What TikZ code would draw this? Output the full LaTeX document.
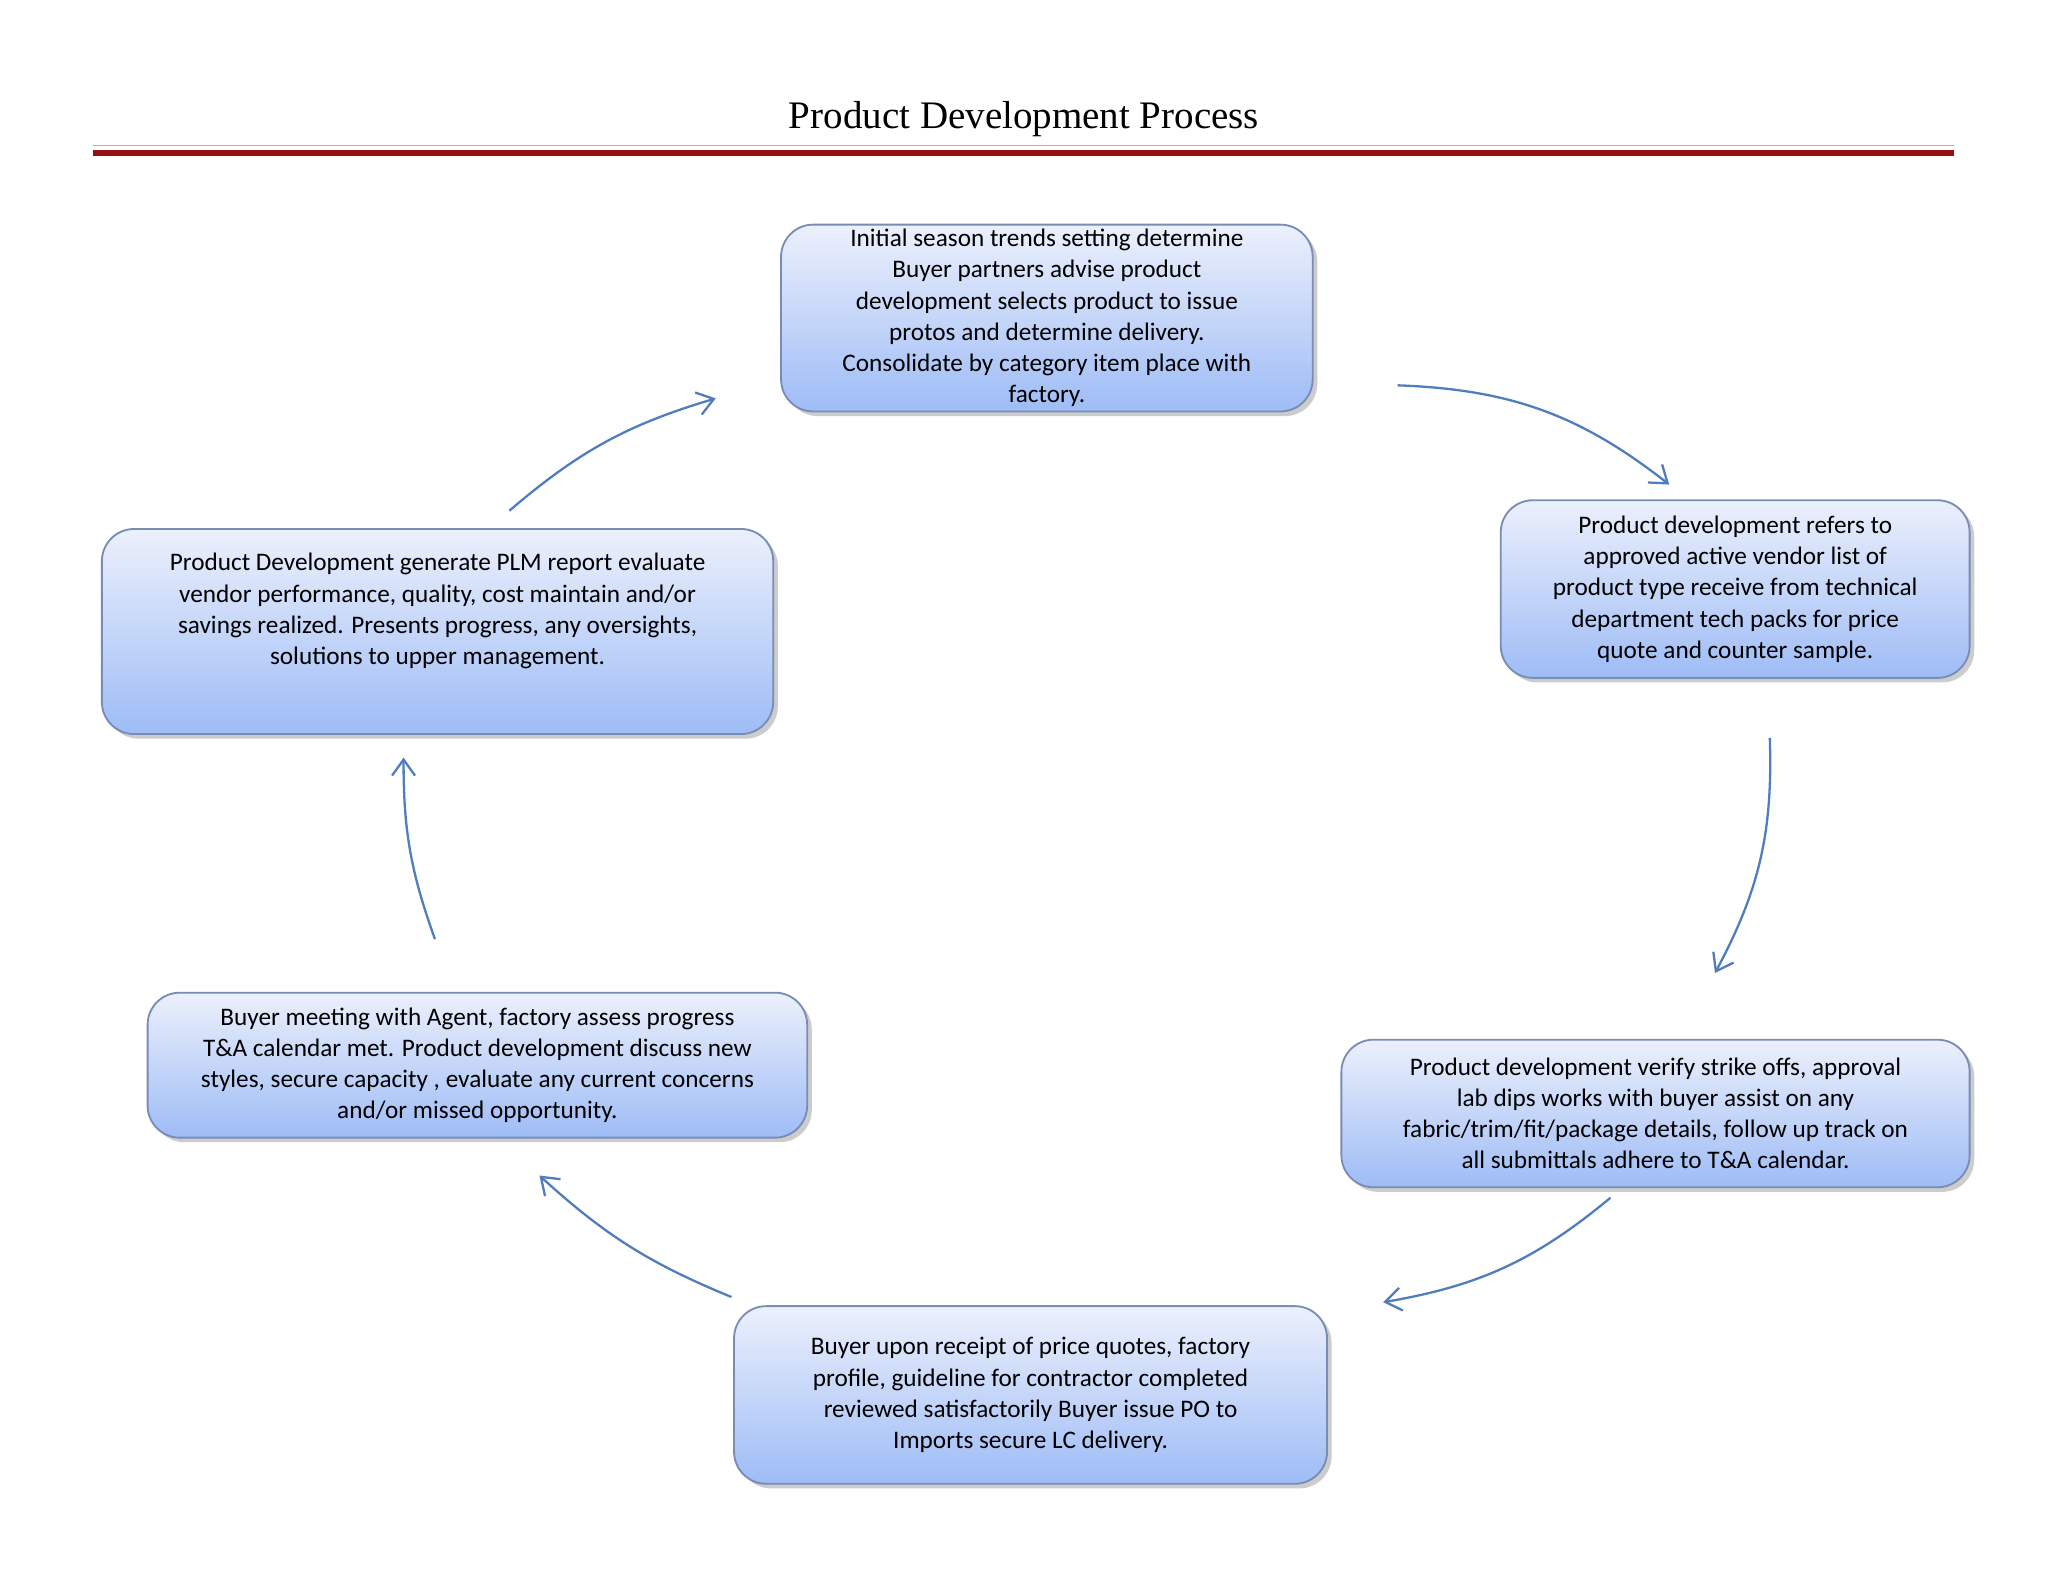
\documentclass[tikz,border=0pt]{standalone}
\usepackage{fontspec}
\setmainfont{Carlito}
\newfontfamily\titlefont{Liberation Serif}
\usetikzlibrary{arrows.meta,shadows}
\definecolor{boxtop}{RGB}{236,240,252}
\definecolor{boxbot}{RGB}{158,188,246}
\definecolor{boxedge}{RGB}{120,140,180}
\definecolor{arr}{RGB}{80,125,190}
\definecolor{rule}{RGB}{150,15,20}
\begin{document}
\begin{tikzpicture}[x=0.02cm,y=-0.02cm,
 box/.style={draw=boxedge,line width=0.8pt,rounded corners=14pt,top color=boxtop,bottom color=boxbot,
   drop shadow={shadow xshift=2pt,shadow yshift=-2pt,fill=black!40,opacity=0.5},
   align=center,font=\fontsize{11}{13.6}\selectfont,inner sep=2pt},
 arrow/.style={draw=arr,line width=1pt,-{Straight Barb[length=7pt,width=10pt]}}]
\useasboundingbox (0,0) rectangle (1568,1211);
\node[font=\titlefont\fontsize{17}{20}\selectfont] (title) at (784,91) {Product Development Process};
\draw[rule!40,line width=0.4pt] (71,111) -- (1496,111);
\draw[rule,line width=2.6pt] (71,117) -- (1496,117);
\node[box,minimum width=407*0.02cm,minimum height=139*0.02cm] (b1) at (801.5,243.5) {Initial season trends setting determine\\Buyer partners advise product\\development selects product to issue\\protos and determine delivery.\\Consolidate by category item place with\\factory.};
\node[box,minimum width=359*0.02cm,minimum height=136*0.02cm] (b2) at (1328.5,451) {Product development refers to\\approved active vendor list of\\product type receive from technical\\department tech packs for price\\quote and counter sample.};
\node[box,minimum width=481*0.02cm,minimum height=113*0.02cm] (b3) at (1267.5,852.5) {Product development verify strike offs, approval\\lab dips works with buyer assist on any\\fabric/trim/fit/package details, follow up track on\\all submittals adhere to T\&A calendar.};
\node[box,minimum width=454*0.02cm,minimum height=136*0.02cm] (b4) at (789,1068) {Buyer upon receipt of price quotes, factory\\profile, guideline for contractor completed\\reviewed satisfactorily Buyer issue PO to\\Imports secure LC delivery.};
\node[box,minimum width=505*0.02cm,minimum height=111*0.02cm] (b5) at (365.5,815.5) {Buyer meeting with Agent, factory assess progress\\T\&A calendar met. Product development discuss new\\styles, secure capacity , evaluate any current concerns\\and/or missed opportunity.};
\node[box,minimum width=514*0.02cm,minimum height=157*0.02cm] (b6) at (335,483.5) {Product Development generate PLM report evaluate\\vendor performance, quality, cost maintain and/or\\savings realized. Presents progress, any oversights,\\solutions to upper management.\\[6pt]};
\coordinate (a1) at (1070,295); \coordinate (a2) at (1278,371);
\coordinate (c1) at (1355,565); \coordinate (c2) at (1313,745);
\coordinate (d1) at (1233,917); \coordinate (d2) at (1059,997);
\coordinate (e1) at (560,993); \coordinate (e2) at (413,900);
\coordinate (f1) at (333,719); \coordinate (f2) at (309,580);
\coordinate (g1) at (390,391); \coordinate (g2) at (548,305);
\draw[arrow] (a1) to[bend left=18] (a2);
\draw[arrow] (c1) to[bend left=15] (c2);
\draw[arrow] (d1) to[bend left=15] (d2);
\draw[arrow] (e1) to[bend left=10] (e2);
\draw[arrow] (f1) to[bend left=10] (f2);
\draw[arrow] (g1) to[bend left=12] (g2);
\end{tikzpicture}
\end{document}
